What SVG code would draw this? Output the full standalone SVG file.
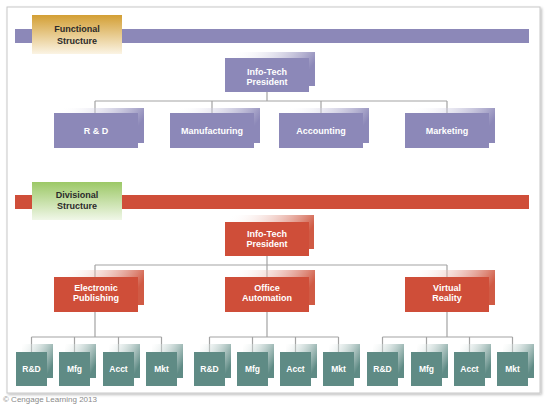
<svg xmlns="http://www.w3.org/2000/svg" width="550" height="410" viewBox="0 0 550 410">
<defs>
<linearGradient id="gGold" x1="0" y1="0" x2="0" y2="1"><stop offset="0" stop-color="#d39f34"/><stop offset="1" stop-color="#fbf4e4"/></linearGradient>
<linearGradient id="gGreen" x1="0" y1="0" x2="0" y2="1"><stop offset="0" stop-color="#9cc866"/><stop offset="1" stop-color="#f0f7e8"/></linearGradient>
<linearGradient id="shP" x1="0" y1="0" x2="1" y2="0.3"><stop offset="0" stop-color="#ffffff" stop-opacity="0"/><stop offset="1" stop-color="#8c88b8"/></linearGradient>
<linearGradient id="shR" x1="0" y1="0" x2="1" y2="0.3"><stop offset="0" stop-color="#ffffff" stop-opacity="0"/><stop offset="1" stop-color="#d05a44"/></linearGradient>
<linearGradient id="shT" x1="0" y1="0" x2="1" y2="0.6"><stop offset="0" stop-color="#ffffff" stop-opacity="0.2"/><stop offset="1" stop-color="#5f8b85"/></linearGradient>
<filter id="fs" x="-5%" y="-5%" width="110%" height="110%"><feDropShadow dx="1.5" dy="1.5" stdDeviation="1.2" flood-color="#000" flood-opacity="0.25"/></filter>
</defs>
<style>
.t{font-family:"Liberation Sans",Arial,sans-serif;font-weight:bold;font-size:9px;text-anchor:middle;fill:#ffffff}
.ts{font-size:8.5px}
.hd{fill:#2b2b2b}
.p{fill:#8c88b8}
.r{fill:#cf4e39}
.k{fill:#5f8b85}
.c{fill:none;stroke:#a3a3a3;stroke-width:1.2}
</style>
<rect width="550" height="410" fill="#ffffff"/>
<rect id="frame" x="7" y="7" width="533" height="386" fill="#ffffff" stroke="#c8c8c8" stroke-width="1" filter="url(#fs)"/>

<g id="functional-banner">
<rect x="15" y="29" width="514" height="14" fill="#8c88b8"/>
<rect x="32" y="15" width="90" height="39" fill="url(#gGold)"/>
<text class="t hd" x="77" y="32">Functional</text>
<text class="t hd" x="77" y="44">Structure</text>
</g>
<g id="divisional-banner">
<rect x="15" y="195" width="514" height="14" fill="#cf4e39"/>
<rect x="32" y="182" width="90" height="38" fill="url(#gGreen)"/>
<text class="t hd" x="77" y="198">Divisional</text>
<text class="t hd" x="77" y="209">Structure</text>
</g>

<g id="connectors">
<path class="c" d="M267 92V101M95 101H447M95 101V113M212 101V113M321 101V113M447 101V113"/>
<path class="c" d="M267 256V265M95 265H447M95 265V277M267 265V277M447 265V277"/>
<path class="c" d="M95 312V337M31.5 337H161.5M31.5 337V352M74.5 337V352M118.5 337V352M161.5 337V352"/>
<path class="c" d="M267 312V337M209.5 337H338.5M209.5 337V352M252.5 337V352M295.5 337V352M338.5 337V352"/>
<path class="c" d="M447 312V337M382.5 337H512.5M382.5 337V352M426.5 337V352M469.5 337V352M512.5 337V352"/>
</g>

<g id="f-president"><rect x="231" y="52" width="84" height="34" fill="url(#shP)"/><rect class="p" x="225" y="58" width="84" height="34"/><text class="t" x="267" y="74.5">Info-Tech</text><text class="t" x="267" y="84.5">President</text></g>
<g id="f-rd"><rect x="60" y="108" width="84" height="35" fill="url(#shP)"/><rect class="p" x="54" y="113" width="84" height="35"/><text class="t" x="96" y="133.5">R &amp; D</text></g>
<g id="f-mfg"><rect x="176" y="108" width="84" height="35" fill="url(#shP)"/><rect class="p" x="170" y="113" width="84" height="35"/><text class="t" x="212" y="133.5">Manufacturing</text></g>
<g id="f-acct"><rect x="285" y="108" width="84" height="35" fill="url(#shP)"/><rect class="p" x="279" y="113" width="84" height="35"/><text class="t" x="321" y="133.5">Accounting</text></g>
<g id="f-mkt"><rect x="411" y="108" width="84" height="35" fill="url(#shP)"/><rect class="p" x="405" y="113" width="84" height="35"/><text class="t" x="447" y="133.5">Marketing</text></g>

<g id="d-president"><rect x="230" y="215" width="84" height="34" fill="url(#shR)"/><rect class="r" x="225" y="222" width="84" height="34"/><text class="t" x="267" y="237">Info-Tech</text><text class="t" x="267" y="247">President</text></g>
<g id="d-ep"><rect x="60" y="270" width="84" height="35" fill="url(#shR)"/><rect class="r" x="54" y="277" width="84" height="35"/><text class="t" x="96" y="291">Electronic</text><text class="t" x="96" y="301">Publishing</text></g>
<g id="d-oa"><rect x="231" y="270" width="84" height="35" fill="url(#shR)"/><rect class="r" x="225" y="277" width="84" height="35"/><text class="t" x="267" y="291">Office</text><text class="t" x="267" y="301">Automation</text></g>
<g id="d-vr"><rect x="411" y="270" width="84" height="35" fill="url(#shR)"/><rect class="r" x="405" y="277" width="84" height="35"/><text class="t" x="447" y="291">Virtual</text><text class="t" x="447" y="301">Reality</text></g>

<g id="ep-rd"><rect x="22" y="344" width="31" height="34" fill="url(#shT)"/><rect class="k" x="16" y="352" width="31" height="34"/><text class="t ts" x="31.5" y="372">R&amp;D</text></g>
<g id="ep-mfg"><rect x="65" y="344" width="31" height="34" fill="url(#shT)"/><rect class="k" x="59" y="352" width="31" height="34"/><text class="t ts" x="74.5" y="372">Mfg</text></g>
<g id="ep-acct"><rect x="109" y="344" width="31" height="34" fill="url(#shT)"/><rect class="k" x="103" y="352" width="31" height="34"/><text class="t ts" x="118.5" y="372">Acct</text></g>
<g id="ep-mkt"><rect x="152" y="344" width="31" height="34" fill="url(#shT)"/><rect class="k" x="146" y="352" width="31" height="34"/><text class="t ts" x="161.5" y="372">Mkt</text></g>

<g id="oa-rd"><rect x="200" y="344" width="31" height="34" fill="url(#shT)"/><rect class="k" x="194" y="352" width="31" height="34"/><text class="t ts" x="209.5" y="372">R&amp;D</text></g>
<g id="oa-mfg"><rect x="243" y="344" width="31" height="34" fill="url(#shT)"/><rect class="k" x="237" y="352" width="31" height="34"/><text class="t ts" x="252.5" y="372">Mfg</text></g>
<g id="oa-acct"><rect x="286" y="344" width="31" height="34" fill="url(#shT)"/><rect class="k" x="280" y="352" width="31" height="34"/><text class="t ts" x="295.5" y="372">Acct</text></g>
<g id="oa-mkt"><rect x="329" y="344" width="31" height="34" fill="url(#shT)"/><rect class="k" x="323" y="352" width="31" height="34"/><text class="t ts" x="338.5" y="372">Mkt</text></g>

<g id="vr-rd"><rect x="373" y="344" width="31" height="34" fill="url(#shT)"/><rect class="k" x="367" y="352" width="31" height="34"/><text class="t ts" x="382.5" y="372">R&amp;D</text></g>
<g id="vr-mfg"><rect x="417" y="344" width="31" height="34" fill="url(#shT)"/><rect class="k" x="411" y="352" width="31" height="34"/><text class="t ts" x="426.5" y="372">Mfg</text></g>
<g id="vr-acct"><rect x="460" y="344" width="31" height="34" fill="url(#shT)"/><rect class="k" x="454" y="352" width="31" height="34"/><text class="t ts" x="469.5" y="372">Acct</text></g>
<g id="vr-mkt"><rect x="503" y="344" width="31" height="34" fill="url(#shT)"/><rect class="k" x="497" y="352" width="31" height="34"/><text class="t ts" x="512.5" y="372">Mkt</text></g>

<text x="3" y="402" font-family="Liberation Sans, Arial, sans-serif" font-size="8" fill="#8a8a8a">© Cengage Learning 2013</text>
</svg>
